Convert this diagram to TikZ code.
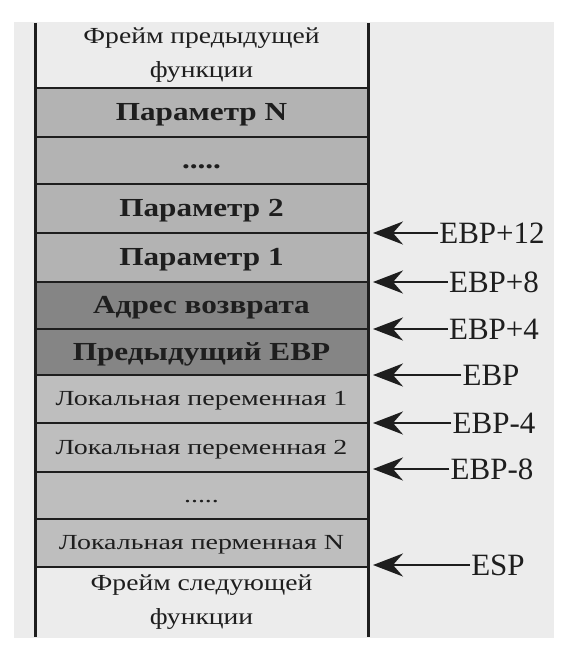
\documentclass[tikz,border=0pt]{standalone}
\usepackage{fontspec}
\setmainfont{Liberation Serif}
\newfontfamily\parfont[FakeStretch=1.2]{Liberation Serif}
\newfontfamily\locfont[FakeStretch=1.3]{Liberation Serif}
\newfontfamily\lblfont{Liberation Serif}
\usetikzlibrary{positioning,arrows.meta}

\definecolor{bgcol}{HTML}{ECECEC}
\definecolor{parcol}{HTML}{B3B3B3}
\definecolor{regcol}{HTML}{858585}
\definecolor{loccol}{HTML}{BEBEBE}
\definecolor{inkcol}{HTML}{1E1E1E}

\tikzset{
  cell/.style={minimum width=333pt, inner sep=0pt, outer sep=0pt, text=inkcol},
  framecell/.style={cell, fill=bgcol, align=center, font=\fontsize{23}{34}\parfont},
  parcell/.style={cell, fill=parcol, font=\fontsize{26}{30}\parfont\bfseries, text height=17pt, text depth=1pt},
  regcell/.style={parcell, fill=regcol},
  loccell/.style={cell, fill=loccol, font=\fontsize{21.5}{24}\locfont, text height=14pt, text depth=1pt},
  rowline/.style={draw=inkcol, line width=2.4pt},
  wall/.style={draw=inkcol, line width=3pt},
  ptr/.style={draw=inkcol, line width=2.6pt, -{Stealth[length=30pt,width=23pt,inset=10pt]}, shorten >=5pt},
  ptrlbl/.style={font=\fontsize{31}{32}\lblfont, text=inkcol, inner sep=1pt}
}

\begin{document}
\begin{tikzpicture}[x=1pt,y=-1pt]
  \useasboundingbox (0,0) rectangle (568,650);
  % фон
  \fill[bgcol] (14,22) rectangle (554,638);

  % ячейки стека
  \node[framecell, minimum height=65pt, anchor=north] (prv) at (201.5,23) {Фрейм предыдущей\\функции};
  \node[parcell, minimum height=49pt, below=0pt of prv] (pN) {Параметр N};
  \node[parcell, minimum height=47pt, below=0pt of pN] (pdots) {.....};
  \node[parcell, minimum height=49pt, below=0pt of pdots] (p2) {Параметр 2};
  \node[parcell, minimum height=49pt, below=0pt of p2] (p1) {Параметр 1};
  \node[regcell, minimum height=47pt, below=0pt of p1] (ret) {Адрес возврата};
  \node[regcell, minimum height=46pt, below=0pt of ret] (oldebp) {Предыдущий EBP};
  \node[loccell, minimum height=48pt, below=0pt of oldebp] (loc1) {Локальная переменная 1};
  \node[loccell, minimum height=49pt, below=0pt of loc1] (loc2) {Локальная переменная 2};
  \node[loccell, minimum height=47pt, below=0pt of loc2] (ldots) {.....};
  \node[loccell, minimum height=48pt, below=0pt of ldots] (locN) {Локальная перменная N};
  \node[framecell, minimum height=70pt, below=0pt of locN] (nxt) {Фрейм следующей\\функции};

  % границы ячеек
  \foreach \c in {pN,pdots,p2,p1,ret,oldebp,loc1,loc2,ldots,locN,nxt} {
    \draw[rowline] (\c.north west) -- (\c.north east);
  }
  \draw[wall] (prv.north west) -- (nxt.south west);
  \draw[wall] (prv.north east) -- (nxt.south east);

  % указатели
  \node[ptrlbl] (l12) at ([xshift=124pt]p1.north east) {EBP+12};
  \node[ptrlbl] (l8) at ([xshift=126pt]ret.north east) {EBP+8};
  \node[ptrlbl] (l4) at ([xshift=126pt]oldebp.north east) {EBP+4};
  \node[ptrlbl] (lebp) at ([xshift=123pt]loc1.north east) {EBP};
  \node[ptrlbl] (lm4) at ([xshift=126pt]loc2.north east) {EBP-4};
  \node[ptrlbl] (lm8) at ([xshift=124pt,yshift=3pt]ldots.north east) {EBP-8};
  \node[ptrlbl] (lesp) at ([xshift=130pt,yshift=2pt]nxt.north east) {ESP};
  \foreach \l in {l12,l8,l4,lebp,lm4,lm8,lesp} {
    \draw[ptr] (\l.west) -- (\l.west -| p1.east);
  }
\end{tikzpicture}
\end{document}
